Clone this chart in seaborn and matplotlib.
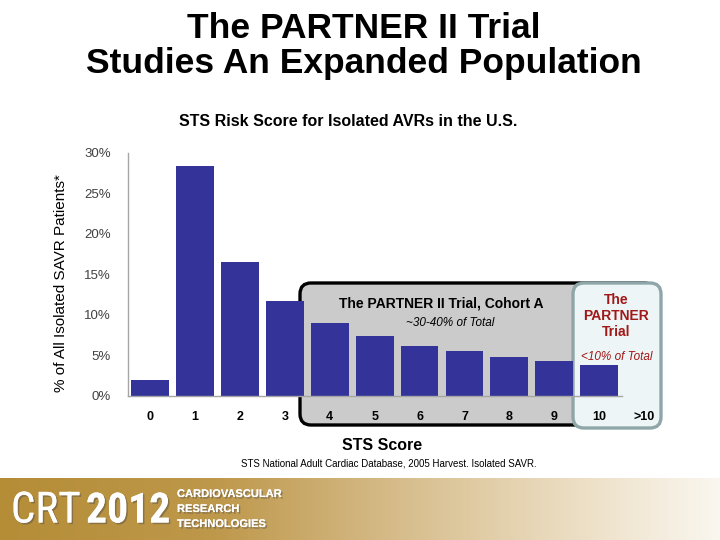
import numpy as np
import pandas as pd
import matplotlib
matplotlib.use("Agg")
import matplotlib.pyplot as plt
import matplotlib.patches as mpatches
import matplotlib.patheffects as pe
from matplotlib.transforms import IdentityTransform
import seaborn as sns

# ---- data ----
categories = ['0', '1', '2', '3', '4', '5', '6', '7', '8', '9', '10', '>10']
bar_categories = categories[:11]
values = [2.0, 28.4, 16.6, 11.7, 9.0, 7.4, 6.2, 5.5, 4.8, 4.3, 3.8]
ytick_values = [0, 5, 10, 15, 20, 25, 30]
ytick_labels = [f"{v}%" for v in ytick_values]

sns.set_style("white")
plt.rcParams['font.family'] = ['Liberation Sans', 'DejaVu Sans']
plt.rcParams['text.color'] = 'black'
plt.rcParams['axes.labelcolor'] = 'black'

W, H = 720, 540
fig = plt.figure(figsize=(W / 100, H / 100), dpi=100)
fig.patch.set_facecolor('white')

def px(x, y):
    """pixel coords (top-left origin) -> figure fraction"""
    return x / W, 1 - y / H

# axes placement
x0, x1 = 127.7, 127.7 + 12 * 44.9
ytop, ybot = 153, 396
ax = fig.add_axes([x0 / W, 1 - ybot / H, (x1 - x0) / W, (ybot - ytop) / H])
ax.set_facecolor('none')

df = pd.DataFrame({'score': bar_categories, 'pct': values})
sns.barplot(data=df, x='score', y='pct', order=bar_categories, color='#333399',
            saturation=1, width=0.84, linewidth=0, ax=ax, zorder=3)

ax.set_xlim(-0.5, 11.5)
ax.set_ylim(0, 30)
ax.set_xticks(range(len(categories)))
ax.set_xticklabels(categories, fontweight='bold', fontsize=9, color='black')
ax.set_xticks(np.arange(-0.5, 11, 1), minor=True)
ax.tick_params(axis='x', which='major', length=0, pad=11)
ax.tick_params(axis='x', which='minor', length=4, width=1, color='#9a9a9a', direction='out')
ax.set_yticks(ytick_values)
ax.set_yticklabels(ytick_labels, fontsize=9.5, color='#404040')
ax.tick_params(axis='y', length=0, pad=12)
ax.set_xlabel('')
ax.set_ylabel('')
for s in ['top', 'right']:
    ax.spines[s].set_visible(False)
for s in ['left', 'bottom']:
    ax.spines[s].set_color('#a6a6a6')
    ax.spines[s].set_linewidth(1)
    ax.spines[s].set_zorder(4)
ax.spines['bottom'].set_bounds(-0.5, 10.5)

# highlight boxes (behind axes)
def box(xa, ya, xb, yb, fc, ec, lw, z):
    p = mpatches.FancyBboxPatch((xa, H - yb), xb - xa, yb - ya,
                                boxstyle="round,pad=0,rounding_size=11",
                                fc=fc, ec=ec, lw=lw, transform=IdentityTransform(),
                                zorder=z)
    fig.add_artist(p)

box(300, 283, 655, 425, '#cbcbcb', 'black', 2.4, -3)
box(573, 283, 661, 428, '#eef5f6', '#8fa6a9', 2.4, -2)

fig.text(*px(441, 303), "The PARTNER II Trial, Cohort A", ha='center', va='center',
         fontsize=10, fontweight='bold', color='black')
fig.text(*px(450, 323), "~30-40% of Total", ha='center', va='center',
         fontsize=8.5, style='italic', color='black')
fig.text(*px(616, 316), "The\nPARTNER\nTrial", ha='center', va='center',
         fontsize=10, fontweight='bold', color='#a01818', linespacing=1.15)
fig.text(*px(617, 357), "<10% of Total", ha='center', va='center',
         fontsize=8.5, style='italic', color='#a01818')

# titles and labels
fig.text(*px(364, 28), "The PARTNER II Trial", ha='center', va='center',
         fontsize=25.5, fontweight='bold', color='black')
fig.text(*px(364, 63), "Studies An Expanded Population", ha='center', va='center',
         fontsize=25.5, fontweight='bold', color='black')
fig.text(*px(348, 122), "STS Risk Score for Isolated AVRs in the U.S.", ha='center',
         va='center', fontsize=11.5, fontweight='bold', color='black')
fig.text(*px(61, 283), "% of All Isolated SAVR Patients*", ha='center', va='center',
         rotation=90, fontsize=11, color='black')
fig.text(*px(382, 445), "STS Score", ha='center', va='center', fontsize=11.5,
         fontweight='bold', color='black')
fig.text(*px(389, 463), "STS National Adult Cardiac Database, 2005 Harvest. Isolated SAVR.",
         ha='center', va='center', fontsize=7, color='black')

# footer banner
bax = fig.add_axes([0, 0, 1, 62 / H])
stops = np.array([0.0, 0.3, 0.55, 0.8, 1.0])
cols = np.array([[181, 141, 55], [190, 152, 75], [214, 188, 138],
                 [236, 222, 196], [250, 247, 240]]) / 255
xs = np.linspace(0, 1, 400)
grad = np.stack([np.interp(xs, stops, cols[:, i]) for i in range(3)], axis=-1)
bax.imshow(grad[None, :, :], aspect='auto', extent=[0, 1, 0, 1])
bax.set_axis_off()

shadow = [pe.withSimplePatchShadow(offset=(1.2, -1.2), alpha=0.45), pe.Normal()]
logo_family = ['Roboto Condensed', 'DejaVu Sans']
fig.text(*px(11, 511), "CRT", ha='left', va='center', fontsize=31,
         family=logo_family, fontstretch='condensed', color='white',
         path_effects=shadow)
fig.text(*px(86, 511), "2012", ha='left', va='center', fontsize=30, fontweight='bold',
         family=logo_family, fontstretch='condensed', color='white',
         path_effects=shadow)
for label, yy in [("CARDIOVASCULAR", 494), ("RESEARCH", 509), ("TECHNOLOGIES", 524)]:
    fig.text(*px(177, yy), label, ha='left', va='center', fontsize=8,
             fontweight='bold', color='white', path_effects=shadow)

fig.savefig('out.png', dpi=100, facecolor='white')
